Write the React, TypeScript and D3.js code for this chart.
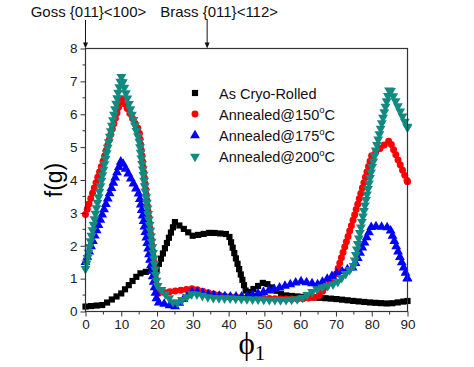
import React, { useEffect, useRef } from 'react'
import * as d3 from 'd3'

// phi1 angle (deg), 5 degree steps
const phi1 = [0, 5, 10, 15, 20, 25, 30, 35, 40, 45, 50, 55, 60, 65, 70, 75, 80, 85, 90]

const cryoRolled = [0.15, 0.2, 0.55, 1.15, 1.3, 2.72, 2.3, 2.4, 2.35, 0.55, 0.9, 0.5, 0.45, 0.42, 0.38, 0.32, 0.27, 0.24, 0.32]
const annealed150 = [2.95, 4.6, 6.5, 5.5, 0.55, 0.62, 0.7, 0.55, 0.45, 0.42, 0.4, 0.38, 0.38, 0.45, 1.1, 2.85, 4.75, 5.2, 3.95]
const annealed175 = [1.5, 3.05, 4.6, 3.55, 0.28, 0.15, 0.62, 0.5, 0.45, 0.45, 0.6, 0.75, 0.92, 0.82, 1.15, 1.35, 2.6, 2.55, 1.0]
const annealed200 = [1.3, 4.3, 7.15, 5.2, 0.8, 0.22, 0.55, 0.42, 0.4, 0.38, 0.36, 0.35, 0.38, 0.7, 0.85, 1.4, 4.35, 6.8, 5.6]

const seriesNames = ['As Cryo-Rolled', 'Annealed@150', 'Annealed@175', 'Annealed@200']
const seriesColors = ['#000000', '#ff0000', '#0000ff', '#138a80']
const seriesShapes = ['square', 'circle', 'triangleUp', 'triangleDown']

const xTicks = [0, 10, 20, 30, 40, 50, 60, 70, 80, 90]
const yTicks = [0, 1, 2, 3, 4, 5, 6, 7, 8]

const annotations = [
  { label: 'Goss {011}<100>', at: 0, shift: 3 },
  { label: 'Brass {011}<112>', at: 34, shift: 12 },
]

const W = 474
const H = 367
const left = 85.5
const right = 407.5
const top = 48.5
const bottom = 311.5

const App: React.FC = () => {
  const ref = useRef<SVGSVGElement>(null)

  useEffect(() => {
    const svg = d3.select(ref.current)
    svg.selectAll('*').remove()

    const x = d3.scaleLinear().domain([0, 90]).range([left, right])
    const y = d3.scaleLinear().domain([0, 8]).range([bottom, top])
    const font = 'Arial, "Liberation Sans", sans-serif'

    const allData = [cryoRolled, annealed150, annealed175, annealed200]

    // markers placed every `step` px along the drawn curve, like the original plot
    const step = 5.6
    const alongPath = (vals: number[]) => {
      const pts = phi1.map((p, i) => [x(p), y(vals[i])])
      const out: number[][] = []
      let carry = 0
      for (let i = 0; i < pts.length - 1; i++) {
        const [x0, y0] = pts[i]
        const [x1, y1] = pts[i + 1]
        const len = Math.hypot(x1 - x0, y1 - y0)
        let t = carry
        while (t <= len) {
          out.push([x0 + ((x1 - x0) * t) / len, y0 + ((y1 - y0) * t) / len])
          t += step
        }
        carry = t - len
      }
      out.push(pts[pts.length - 1])
      return out
    }

    const symbolFor = (shape: string) => {
      if (shape === 'square') return d3.symbol(d3.symbolSquare, 38)()
      if (shape === 'circle') return d3.symbol(d3.symbolCircle, 38)()
      return d3.symbol(d3.symbolTriangle, 42)()
    }

    const plot = svg.append('g')
    allData.forEach((vals, si) => {
      const g = plot.append('g')
      alongPath(vals).forEach(([px, py]) => {
        const rot = seriesShapes[si] === 'triangleDown' ? ' rotate(180)' : ''
        g.append('path')
          .attr('d', symbolFor(seriesShapes[si]))
          .attr('transform', `translate(${px},${py})${rot}`)
          .attr('fill', seriesColors[si])
      })
    })

    // frame
    svg.append('rect')
      .attr('x', left).attr('y', top)
      .attr('width', right - left).attr('height', bottom - top)
      .attr('fill', 'none').attr('stroke', '#333').attr('stroke-width', 1.2)

    // x axis
    const xAxis = d3.axisBottom(x).tickValues(xTicks).tickSize(5).tickPadding(3)
    const gx = svg.append('g').attr('transform', `translate(0,${bottom})`).call(xAxis)
    gx.select('.domain').remove()
    gx.selectAll('text').attr('font-size', 13.5).attr('font-family', font).attr('fill', '#222')
    gx.selectAll('line').attr('stroke', '#333')
    d3.range(5, 90, 10).forEach((m) => {
      gx.append('line').attr('x1', x(m)).attr('x2', x(m)).attr('y1', 0).attr('y2', 3).attr('stroke', '#333')
    })

    // y axis
    const yAxis = d3.axisLeft(y).tickValues(yTicks).tickSize(5).tickPadding(3)
    const gy = svg.append('g').attr('transform', `translate(${left},0)`).call(yAxis)
    gy.select('.domain').remove()
    gy.selectAll('text').attr('font-size', 13.5).attr('font-family', font).attr('fill', '#222')
    gy.selectAll('line').attr('stroke', '#333')
    d3.range(0.5, 8, 1).forEach((m) => {
      gy.append('line').attr('x1', 0).attr('x2', -3).attr('y1', y(m)).attr('y2', y(m)).attr('stroke', '#333')
    })

    // axis titles
    svg.append('text')
      .attr('transform', `translate(62,${(top + bottom) / 2}) rotate(-90)`)
      .attr('text-anchor', 'middle')
      .attr('font-family', font).attr('font-size', 23)
      .text('f(g)')

    const xt = svg.append('text')
      .attr('x', (left + right) / 2 - 8).attr('y', 354)
      .attr('font-family', '"Liberation Serif", "Times New Roman", serif')
      .attr('font-size', 31)
    xt.append('tspan').text('ϕ')
    xt.append('tspan').attr('font-size', 21).attr('dy', 6).text('1')

    // legend
    const legendX = 195
    const legendY = [93, 114, 135.5, 156.5]
    seriesNames.forEach((name, i) => {
      const rot = seriesShapes[i] === 'triangleDown' ? ' rotate(180)' : ''
      svg.append('path')
        .attr('d', symbolFor(seriesShapes[i]))
        .attr('transform', `translate(${legendX},${legendY[i]})${rot}`)
        .attr('fill', seriesColors[i])
      const t = svg.append('text')
        .attr('x', 219).attr('y', legendY[i] + 5.5)
        .attr('font-family', font).attr('font-size', 14.5).attr('fill', '#111')
      t.append('tspan').text(name)
      if (i > 0) {
        t.append('tspan').attr('font-size', 9.5).attr('dy', -6.5).text('o')
        t.append('tspan').attr('dy', 6.5).text('C')
      }
    })

    // texture component annotations
    annotations.forEach((a) => {
      const ax = x(a.at)
      svg.append('text')
        .attr('x', ax + a.shift).attr('y', 17)
        .attr('text-anchor', 'middle')
        .attr('font-family', font).attr('font-size', 15).attr('fill', '#111')
        .text(a.label)
      svg.append('line')
        .attr('x1', ax).attr('x2', ax).attr('y1', 20).attr('y2', top - 5)
        .attr('stroke', '#111').attr('stroke-width', 1)
      svg.append('path')
        .attr('d', `M${ax - 2.5},${top - 6} L${ax + 2.5},${top - 6} L${ax},${top} Z`)
        .attr('fill', '#111')
    })
  }, [])

  return (
    <svg
      ref={ref}
      width={W}
      height={H}
      style={{ position: 'absolute', left: 0, top: 0, background: '#fff' }}
    />
  )
}

export default App
